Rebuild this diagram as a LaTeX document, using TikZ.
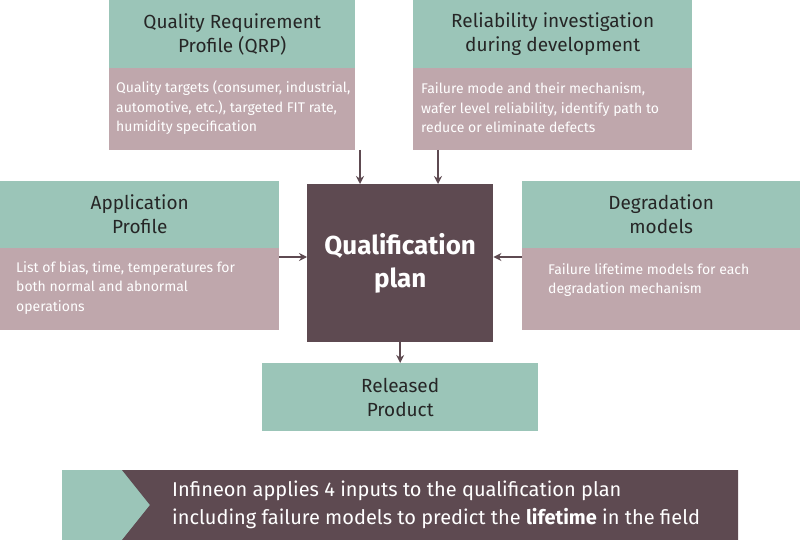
\documentclass[tikz,border=0pt]{standalone}
\usepackage{fontspec}
\setmainfont{Fira Sans}
\usetikzlibrary{arrows.meta}
\definecolor{teal}{HTML}{9BC5B8}
\definecolor{pinkb}{HTML}{BFA7AC}
\definecolor{darkb}{HTML}{5E4A51}
\begin{document}
\begin{tikzpicture}[x=1pt,y=-1pt,
 hdr/.style={fill=teal,draw=none,anchor=north west,inner sep=0pt,align=center,font=\fontsize{19}{24}\selectfont,text=black!85},
 bdy/.style={fill=pinkb,draw=none,anchor=north west,inner sep=0pt},
 btxt/.style={anchor=west,align=left,text=white,font=\fontsize{14}{19.5}\selectfont,inner sep=0pt},
 arr/.style={draw=darkb,line width=1.5pt,-{Stealth[length=8pt,width=8pt]}}]
\useasboundingbox (0,0) rectangle (800,540);
% QRP
\node[hdr,minimum width=246pt,minimum height=68pt] (qh) at (109,0) {Quality Requirement\\Profile (QRP)};
\node[bdy,minimum width=246pt,minimum height=82pt] (qb) at (109,68) {};
\node[btxt] (qt) at (116,108) {Quality targets (consumer, industrial,\\automotive, etc.), targeted FIT rate,\\humidity specification};
% Reliability
\node[hdr,minimum width=279pt,minimum height=68pt] (rh) at (413,0) {Reliability investigation\\during development};
\node[bdy,minimum width=279pt,minimum height=82pt] (rb) at (413,68) {};
\node[btxt] (rt) at (421,108) {Failure mode and their mechanism,\\wafer level reliability, identify path to\\reduce or eliminate defects};
% Application
\node[hdr,minimum width=279pt,minimum height=67pt] (ah) at (0,181) {Application\\Profile};
\node[bdy,minimum width=279pt,minimum height=82pt] (ab) at (0,248) {};
\node[btxt] (at) at (16,288) {List of bias, time, temperatures for\\both normal and abnormal\\operations};
% Degradation
\node[hdr,minimum width=278pt,minimum height=67pt] (dh) at (522,181) {Degradation\\models};
\node[bdy,minimum width=278pt,minimum height=82pt] (db) at (522,248) {};
\node[btxt] (dt) at (548,280) {Failure lifetime models for each\\degradation mechanism};
% Plan
\node[fill=darkb,anchor=north west,minimum width=186pt,minimum height=158pt,inner sep=0pt,align=center,text=white,font=\bfseries\fontsize{26}{33}\selectfont] (qp) at (307,184) {Qualification\\plan};
% Released
\node[hdr,minimum width=276pt,minimum height=68pt] (rp) at (262,363) {Released\\Product};
% arrows
\coordinate (a1) at (360,150); \coordinate (a2) at (360,184);
\coordinate (b1) at (438,150); \coordinate (b2) at (438,184);
\draw[arr] (a1) -- (a2);
\draw[arr] (b1) -- (b2);
\draw[arr] (ab.north east |- 0,257) -- (qp.west |- 0,257);
\draw[arr] (db.north west |- 0,257) -- (qp.east |- 0,257);
\draw[arr] (qp.south) -- (rp.north);
% banner
\fill[teal] (62,470) rectangle (150,540);
\fill[darkb] (122,470) -- (738,470) -- (738,540) -- (122,540) -- (150,505) -- cycle;
\node[btxt,font=\fontsize{20}{28}\selectfont] (bt) at (172,505) {Infineon applies 4 inputs to the qualification plan\\including failure models to predict the \textbf{lifetime} in the field};
\end{tikzpicture}
\end{document}
